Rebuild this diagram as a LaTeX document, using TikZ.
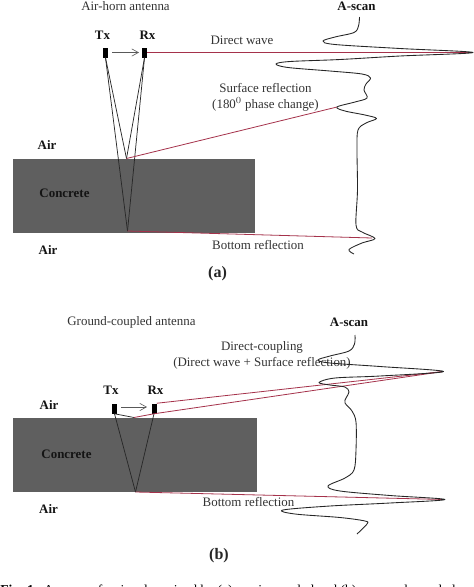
\documentclass[tikz,border=0pt]{standalone}
\usepackage{fontspec}
\setmainfont{Liberation Serif}
\usetikzlibrary{arrows.meta}
\definecolor{slab}{RGB}{95,95,95}
\definecolor{refl}{RGB}{165,50,75}
\definecolor{ray}{RGB}{40,40,40}
\tikzset{
  x=0.75pt,y=-0.75pt,
  lbl/.style={font=\fontsize{9.7}{11}\selectfont,text=black!80,inner sep=0pt,align=center},
  blbl/.style={lbl,font=\fontsize{9.7}{11}\selectfont\bfseries,text=black!92},
  panelcap/.style={inner sep=0pt,font=\fontsize{12}{14}\selectfont\bfseries,text=black!85},
  slabbox/.style={fill=slab,draw=none},
  antenna/.style={fill=black,draw=none,minimum width=3.75pt,minimum height=7.5pt,inner sep=0pt},
  rayline/.style={draw=ray,line width=0.55pt},
  refline/.style={draw=refl,line width=0.6pt},
  scan/.style={draw=black!85,line width=0.65pt,line join=round},
  txarrow/.style={draw=black!65,line width=0.45pt,-{Straight Barb[length=5pt,width=5.5pt]}}
}
\begin{document}
\begin{tikzpicture}
\useasboundingbox (0,0) rectangle (474,587);
\clip (0,0) rectangle (474,587);
\fill[white] (0,0) rectangle (474,587);
% ---------- panel (a)
\node[slabbox,anchor=north west,minimum width=181.5pt,minimum height=55.5pt,inner sep=0pt] (slabA) at (12.7,158.5) {};
\node[lbl] (titleA) at (125.5,6) {Air-horn antenna};
\node[blbl] (scanA) at (356.5,6) {A-scan};
\node[blbl] (txA) at (102.5,35) {Tx};
\node[blbl] (rxA) at (147.5,35) {Rx};
\node[antenna] (antTA) at (105.5,52.5) {};
\node[antenna] (antRA) at (144.5,52.5) {};
\node[lbl] (dwA) at (242,40.5) {Direct wave};
\node[lbl] (srA) at (265.5,97.5) {Surface reflection\\[1pt](180$^{\scriptstyle 0}$ phase change)};
\node[blbl] (air1A) at (47,145.5) {Air};
\node[blbl] (concA) at (64.5,193) {Concrete};
\node[blbl] (air2A) at (48,250.5) {Air};
\node[lbl] (brA) at (258,245) {Bottom reflection};
\node[panelcap] (capA) at (217.5,273.5) {(a)};
\coordinate (surfA) at (126.5,158.5);
\coordinate (botA) at (127.5,231);
\coordinate (peakA) at (472,52.5);
\coordinate (troughA) at (337,107);
\coordinate (pk2A) at (372,238);
\draw[txarrow] (112,52.5) -- (139,52.5);
\draw[rayline] (antTA.south) -- (surfA);
\draw[rayline] (antRA.south) -- (surfA);
\draw[rayline] (antTA.south) -- (botA);
\draw[rayline] (antRA.south) -- (botA);
\draw[refline] (antRA.east) -- (peakA);
\draw[refline] (surfA) -- (troughA);
\draw[refline] (botA) -- (pk2A);
\draw[scan] plot[smooth,tension=0.55] coordinates {(359.5,17) (358.5,26) (354,32.5) (335,37) (323,41) (335,44.5) (400,48.5) (473,52.5) (400,56) (340,59.5) (290,61.5) (276,64) (288,67.5) (330,71) (362,74) (370.5,78) (366,84) (364,90) (367,98) (355,102) (337,107) (345,111) (365,115) (376.5,118.5) (366,123) (358,130) (357,150) (357.5,190) (356,225) (362,232) (375,238.5) (362,243) (349,249.5) (354,254)};
% ---------- panel (b)
\node[slabbox,anchor=north west,minimum width=183pt,minimum height=55.5pt,inner sep=0pt] (slabB) at (12.7,417.5) {};
\node[lbl] (titleB) at (131.5,322.5) {Ground-coupled antenna};
\node[blbl] (scanB) at (349,322) {A-scan};
\node[lbl] (dcB) at (262,355.5) {Direct-coupling\\[1pt](Direct wave + Surface reflection)};
\node[blbl] (txB) at (111,390.5) {Tx};
\node[blbl] (rxB) at (155.5,390.5) {Rx};
\node[antenna] (antTB) at (114.5,408.5) {};
\node[antenna] (antRB) at (154,408.5) {};
\node[blbl] (air1B) at (49,405.5) {Air};
\node[blbl] (concB) at (66.5,454) {Concrete};
\node[blbl] (air2B) at (48.5,509.5) {Air};
\node[lbl] (brB) at (248.5,502.5) {Bottom reflection};
\node[panelcap] (capB) at (219,556) {(b)};
\coordinate (surfB) at (134,417.5);
\coordinate (botB) at (135.5,492);
\coordinate (peakB) at (443,371.5);
\coordinate (pk2B) at (444.5,499.5);
\draw[txarrow] (121,407) -- (147,407);
\draw[rayline] (antTB.south) -- (surfB);
\draw[rayline] (antTB.south) -- (botB);
\draw[rayline] (antRB.south) -- (botB);
\draw[refline] (surfB) -- (antRB.south);
\draw[refline] (antRB.south) -- (peakB);
\draw[refline] (antRB.north east) -- (peakB);
\draw[refline] (botB) -- (pk2B);
\draw[scan] plot[smooth,tension=0.55] coordinates {(355,335) (354.5,344) (349,351) (330,356) (318,360) (330,363) (380,366.5) (443.5,371.5) (380,376) (335,378) (319,382.5) (330,385) (345,387) (349,392) (346,398) (345,403) (352,411) (356,422) (356,450) (354,470) (345,478) (328,486) (340,491) (390,495.5) (445,499.5) (390,503) (330,506) (283,510) (295,514) (340,517.5) (365,521) (367,524) (357,534)};
% ---------- caption, cut by the lower edge as in the reference
\node[anchor=base west,inner sep=0pt,font=\fontsize{10.2}{11}\selectfont] (figcap) at (0,594) {\textbf{Fig. 1.}\hspace{5pt}A-scans of a signal received by (a) an air-coupled and (b) a ground-coupled};
\end{tikzpicture}
\end{document}
